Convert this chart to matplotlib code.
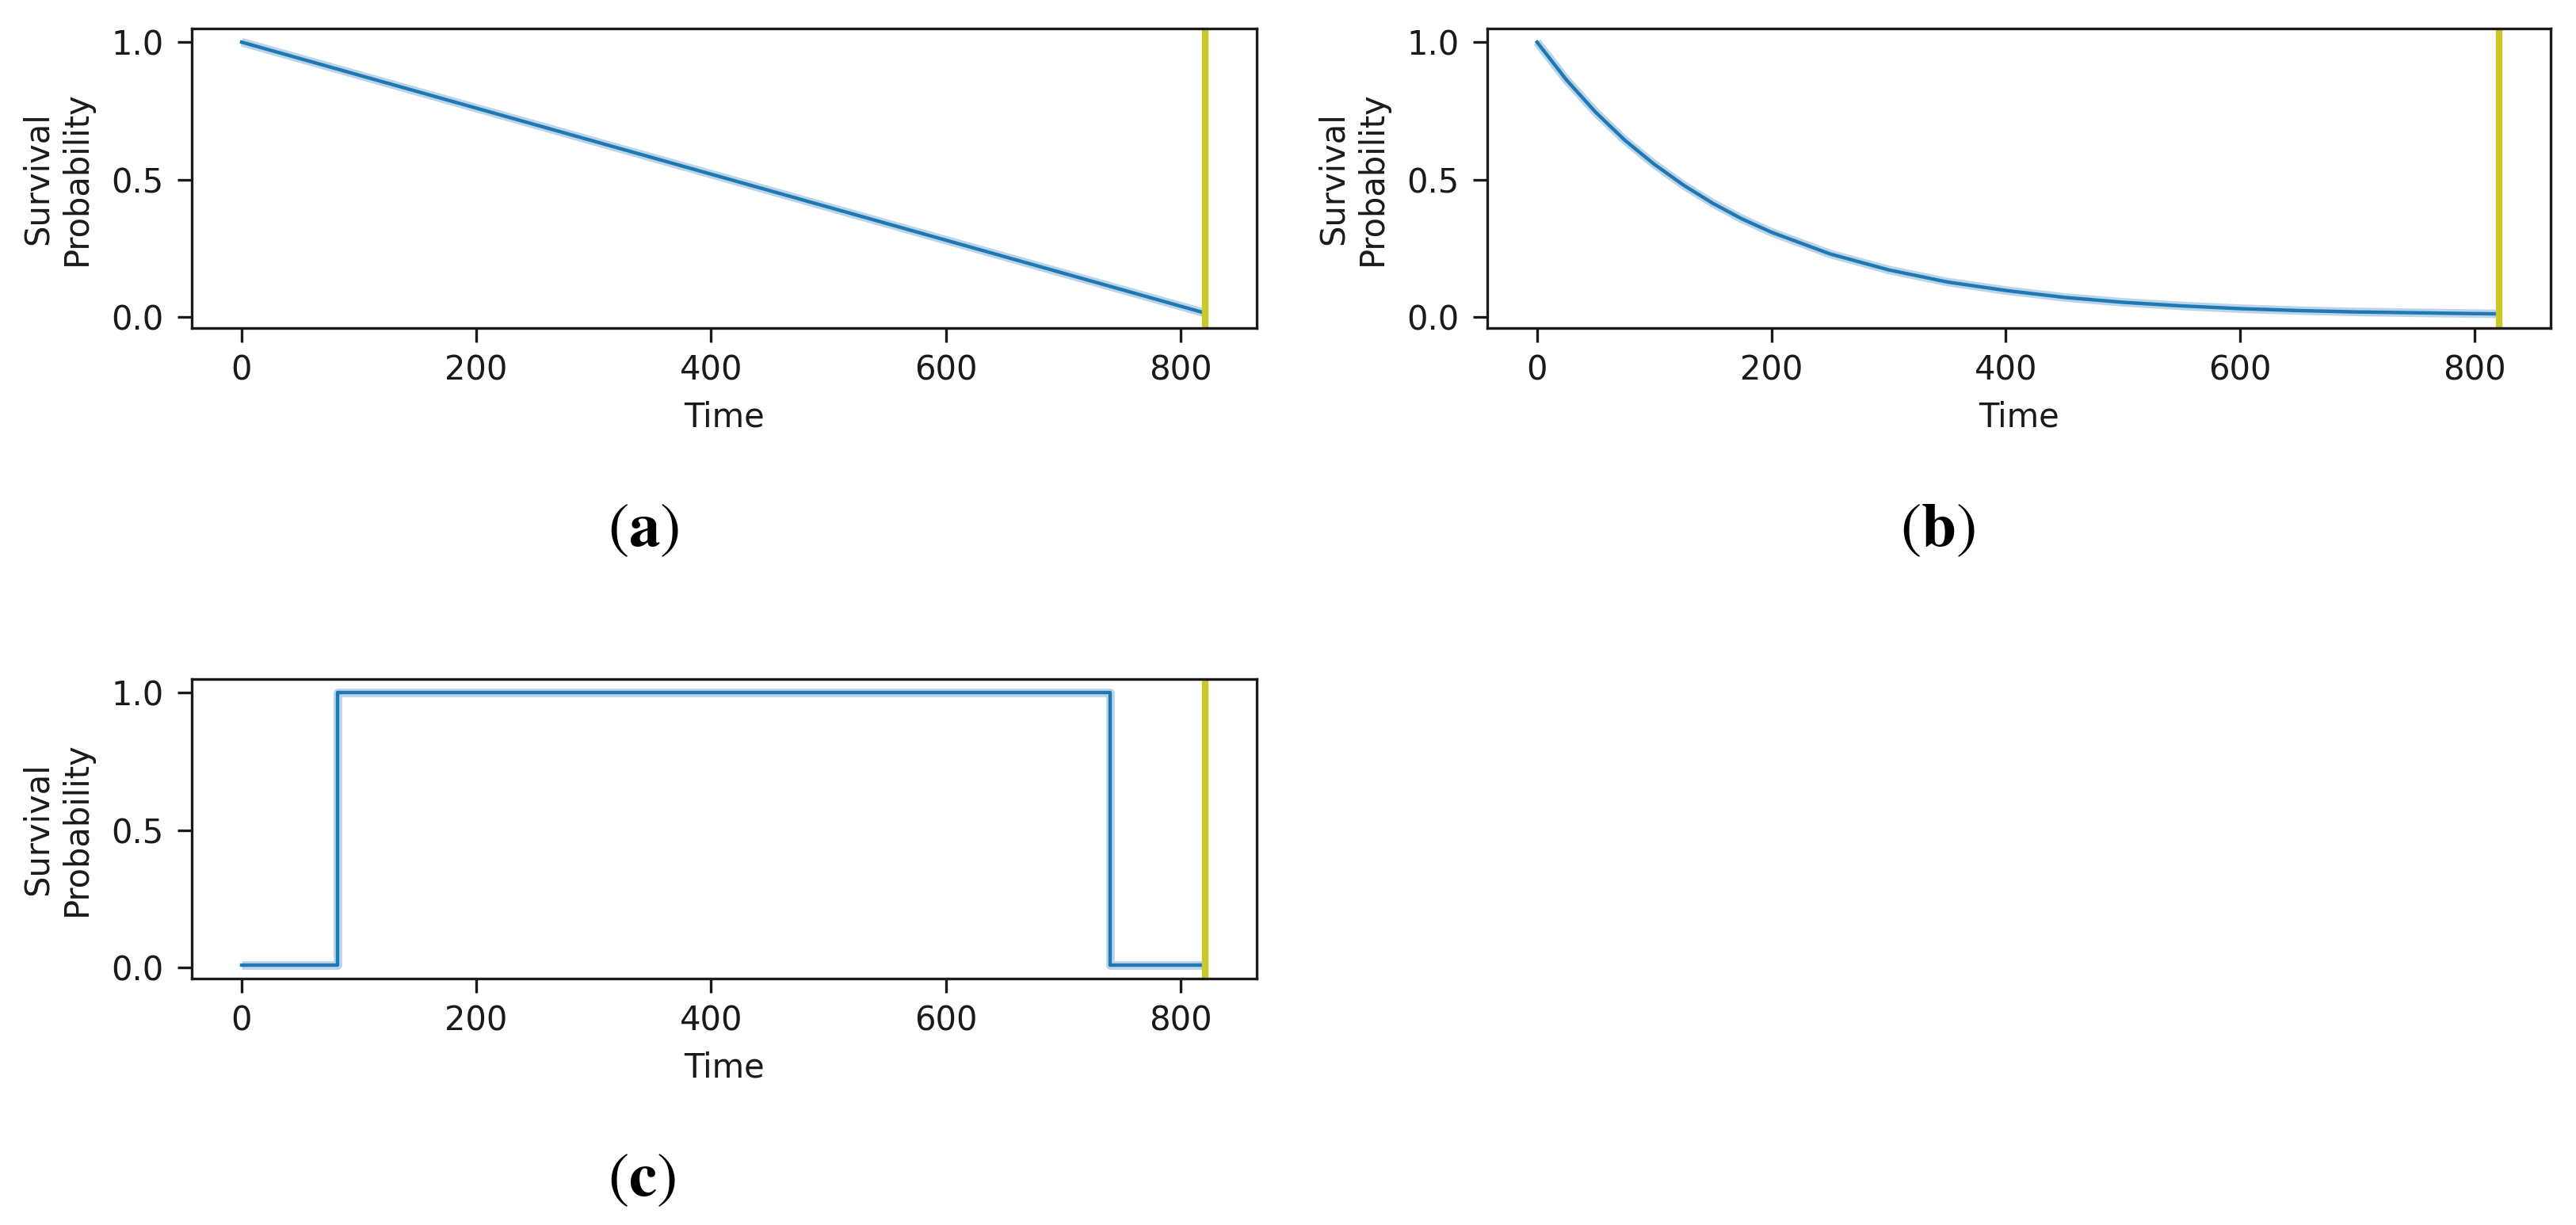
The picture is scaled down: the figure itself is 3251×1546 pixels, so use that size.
import matplotlib
matplotlib.use("Agg")
import matplotlib.pyplot as plt

plt.rcParams['font.family'] = ['DejaVu Sans']
plt.rcParams['mathtext.fontset'] = 'stix'

# values
# (a) linear decay
time_a = [0, 821]
surv_a = [1.0, 0.015]

# (b) exponential-looking decay
time_b = [0, 25, 50, 75, 100, 125, 150, 175, 200, 250, 300, 350, 400,
          450, 500, 550, 600, 650, 700, 750, 800, 821]
surv_b = [1.0, 0.863, 0.745, 0.643, 0.556, 0.480, 0.414, 0.357, 0.309, 0.230,
          0.172, 0.128, 0.097, 0.072, 0.054, 0.041, 0.031, 0.024, 0.019,
          0.016, 0.013, 0.012]

# (c) step shape
time_c = [0, 82, 82, 740, 740, 821]
surv_c = [0.01, 0.01, 1.0, 1.0, 0.01, 0.01]

event_time = 821
x_ticks = [0, 200, 400, 600, 800]
y_ticks = [0.0, 0.5, 1.0]
panel_labels = ['a', 'b', 'c']

W, H = 3251, 1546
fig = plt.figure(figsize=(W / 300, H / 300), dpi=300)

# axes boxes in pixels: left, top, right, bottom
boxes = [(242, 36, 1586, 414), (1877, 36, 3219, 414), (242, 857, 1586, 1235)]
label_pos = [(812, 667), (2445, 667), (810, 1487)]
series = [(time_a, surv_a), (time_b, surv_b), (time_c, surv_c)]

blue = '#1f77b4'
for (l, t, r, b), (tx, sy), lab, (lx, ly) in zip(boxes, series, panel_labels, label_pos):
    ax = fig.add_axes([l / W, 1 - b / H, (r - l) / W, (b - t) / H])
    ax.plot(tx, sy, color=blue, lw=2.6, alpha=0.3, solid_capstyle='butt')
    ax.plot(tx, sy, color=blue, lw=1.05)
    ax.axvline(event_time, color='#cac82a', lw=2.0)
    ax.set_xlim(-42.5, 865)
    ax.set_ylim(-0.0395, 1.0495)
    ax.set_xticks(x_ticks)
    ax.set_yticks(y_ticks)
    ax.tick_params(labelsize=10, length=4.3, width=0.8, colors='#1a1a1a')
    ax.tick_params(axis='y', pad=4.2)
    for s in ax.spines.values():
        s.set_linewidth(0.8)
        s.set_color('#1a1a1a')
    ax.set_xlabel('Time', fontsize=10, color='#1a1a1a')
    ax.set_ylabel('Survival\nProbability', fontsize=10, color='#1a1a1a', labelpad=5.5)
    fig.text(lx / W, 1 - ly / H, r'$(\mathbf{%s})$' % lab, fontsize=19,
             ha='center', va='center')

fig.savefig('out.png', dpi=300)
